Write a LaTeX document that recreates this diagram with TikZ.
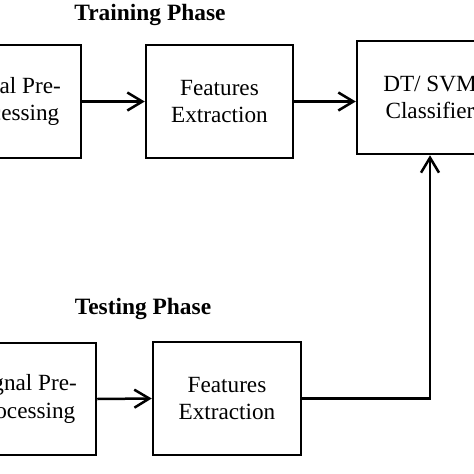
\documentclass[tikz,border=0pt]{standalone}
\usepackage{fontspec}
\setmainfont{Liberation Serif}
\usetikzlibrary{arrows.meta}
\tikzset{
  blk/.style={draw, line width=2.5pt, align=center, inner sep=0pt,
    font=\fontsize{23.2}{27.5}\selectfont},
  ttl/.style={font=\fontsize{23.4}{28}\selectfont\bfseries},
  arr/.style={line width=2.5pt, -{Straight Barb[length=15pt,width=18pt,line width=2.5pt]}}
}
\begin{document}
\begin{tikzpicture}[x=1pt,y=-1pt]
\useasboundingbox (0,0) rectangle (474,474);
\clip (0,0) rectangle (474,474);
\fill[white] (0,0) rectangle (474,474);
\node[ttl] (t1) at (150,15) {Training Phase};
\node[ttl] (t2) at (143,309) {Testing Phase};
\node[blk, minimum width=144pt, minimum height=113pt] (tr1) at (9,101.5) {Signal Pre-\\Processing};
\node[blk, minimum width=147pt, minimum height=113pt] (tr2) at (219.5,101.5) {Features\\Extraction};
\node[blk, minimum width=146pt, minimum height=113pt] (dt) at (430,97.5) {DT/ SVM\\Classifier};
\node[blk, minimum width=142pt, minimum height=112pt] (te1) at (25,399) {Signal Pre-\\Processing};
\node[blk, minimum width=148pt, minimum height=113pt] (te2) at (227,398.5) {Features\\Extraction};
\draw[arr] (tr1.east) -- (tr2.west);
\draw[arr] (tr2.east) -- (dt.west |- tr2.east);
\draw[arr] (te1.east) -- (te2.west);
\draw[arr] (te2.east) -| (dt.south);
\end{tikzpicture}
\end{document}
